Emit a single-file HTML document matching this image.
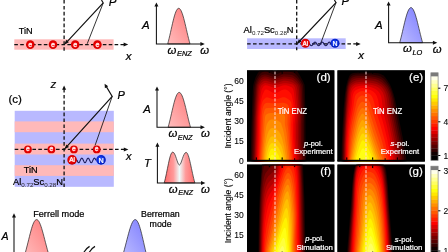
<!DOCTYPE html>
<html><head><meta charset="utf-8"><title>Figure</title>
<style>
html,body{margin:0;padding:0;background:#fff;overflow:hidden}
svg{display:block}
text{font-family:"Liberation Sans",sans-serif;stroke:#000;stroke-width:0.22px}
text[fill="#fff"]{stroke:#fff}
text[fill="#ffe6e6"]{stroke:#ffe6e6;stroke-width:0.3px}
tspan.s{stroke:none;fill:#222}
text.n{stroke-width:0.08px}
</style></head><body>
<svg width="448" height="252" viewBox="0 0 448 252">
<rect width="448" height="252" fill="#fff"/>
<defs>
<radialGradient id="ge" cx="0.5" cy="0.5" r="0.5"><stop offset="0" stop-color="#f44"/><stop offset="0.5" stop-color="#ec0000"/><stop offset="1" stop-color="#d80000"/></radialGradient>
<radialGradient id="gal" cx="0.45" cy="0.45" r="0.55"><stop offset="0" stop-color="#ff5a5a"/><stop offset="0.6" stop-color="#e80000"/><stop offset="1" stop-color="#c40000"/></radialGradient>
<radialGradient id="gn" cx="0.45" cy="0.45" r="0.55"><stop offset="0" stop-color="#4a6cff"/><stop offset="0.6" stop-color="#0a2ee0"/><stop offset="1" stop-color="#0018b0"/></radialGradient>
<linearGradient id="gr" x1="0" y1="1" x2="1" y2="0"><stop offset="0" stop-color="#ffbcbc"/><stop offset="1" stop-color="#ff7a7a"/></linearGradient>
<linearGradient id="gb" x1="0" y1="1" x2="1" y2="0"><stop offset="0" stop-color="#bcbcff"/><stop offset="1" stop-color="#7c7cff"/></linearGradient>
<linearGradient id="gt" x1="0" y1="0" x2="1" y2="0"><stop offset="0" stop-color="#ff6a6a"/><stop offset="0.3" stop-color="#ff9a9a"/><stop offset="0.5" stop-color="#eefafa"/><stop offset="0.7" stop-color="#ff9a9a"/><stop offset="1" stop-color="#ff6a6a"/></linearGradient>
<marker id="ah" viewBox="0 0 10 10" refX="9" refY="5" markerWidth="4.2" markerHeight="4.2" orient="auto"><path d="M0,0.8 L10,5 L0,9.2 Z" fill="#111"/></marker>
<g id="el"><circle r="4.3" fill="url(#ge)"/><text y="2.1" font-size="7.2" text-anchor="middle" fill="#ffe6e6">e</text></g>
<g id="el2"><circle r="3.9" fill="url(#ge)"/><text y="2.0" font-size="6.8" text-anchor="middle" fill="#ffe6e6">e</text></g>
</defs>

<!-- ================= (a) TiN film ================= -->
<rect x="14.3" y="39.3" width="99.3" height="10.4" fill="#ffb9b9"/>
<line x1="14.3" y1="44.6" x2="124.5" y2="44.6" stroke="#111" stroke-width="1.3" stroke-dasharray="3.6 2.3"/>
<path d="M128.2,44.6 L123.6,42.6 L123.6,46.6 Z" fill="#111"/>
<line x1="64.1" y1="0" x2="64.1" y2="50.8" stroke="#111" stroke-width="1.3" stroke-dasharray="3.6 2.3"/>
<use href="#el" x="30.3" y="44.6"/><use href="#el" x="53.0" y="44.6"/><use href="#el" x="75.2" y="44.6"/><use href="#el" x="97.4" y="44.6"/>
<path d="M101.5,0 L103.2,3 L65.3,43.6" fill="none" stroke="#111" stroke-width="1.15"/><path d="M103.2,3 L87.2,43.8" fill="none" stroke="#111" stroke-width="0.85"/>
<path d="M64.3,44.5 L66.3,39.8 L68.9,42.3 Z" fill="#111"/>
<text x="18.8" y="34.0" font-size="9.2">TiN</text>
<text x="108.8" y="6.4" font-size="11.5" font-style="italic">P</text>
<text x="125.8" y="59.7" font-size="11.5" font-style="italic">x</text>
<!-- A plot (a) -->
<path d="M167.7,43.9 C171.6,30 174.6,8.3 178.7,8.3 C182.8,8.3 186,30 190,43.9 Z" fill="url(#gr)" stroke="#222" stroke-width="0.7"/>
<path d="M156.4,5 L156.4,43.9 L201,43.9" fill="none" stroke="#111" stroke-width="1.05"/>
<path d="M156.4,2.4 L154.4,6.6 L158.4,6.6 Z M204.8,43.9 L200.4,41.9 L200.4,45.9 Z" fill="#111"/>
<text x="142.0" y="29.3" font-size="11.5" font-style="italic">A</text>
<text x="167.6" y="53.7" font-size="11.3" font-style="italic">ω<tspan font-size="7.4" dy="2.7" dx="0.6">ENZ</tspan></text>
<text x="200.2" y="54.3" font-size="11.3" font-style="italic">ω</text>

<!-- ================= (b) AlScN film ================= -->
<rect x="247.1" y="38.3" width="98.6" height="10.7" fill="#b9b9ff"/>
<line x1="247.1" y1="43.9" x2="357" y2="43.9" stroke="#111" stroke-width="1.3" stroke-dasharray="3.6 2.3"/>
<path d="M360.7,43.9 L356.1,41.9 L356.1,45.9 Z" fill="#111"/>
<line x1="296.7" y1="0" x2="296.7" y2="50.2" stroke="#111" stroke-width="1.3" stroke-dasharray="3.6 2.3"/>
<path d="M334.4,0 L336,2.6 L297.8,43.0" fill="none" stroke="#111" stroke-width="1.15"/><path d="M336,2.6 L320.6,43.6" fill="none" stroke="#111" stroke-width="0.85"/>
<path d="M296.9,43.9 L298.9,39.2 L301.5,41.7 Z" fill="#111"/>
<path d="M309.6,43.9 q1.8,3.6 3.6,0 t3.6,0 t3.6,0 t3.6,0 t3.6,0 t3.2,0" fill="none" stroke="#1c1c5c" stroke-width="1.15"/>
<circle cx="305.4" cy="43.3" r="4.5" fill="url(#gal)"/><text x="305.4" y="45.6" font-size="6.4" text-anchor="middle" fill="#fff">Al</text>
<circle cx="335.0" cy="43.3" r="4.5" fill="url(#gn)"/><text x="335.0" y="45.8" font-size="7" text-anchor="middle" fill="#fff">N</text>
<text x="243.6" y="32.9" font-size="9.3">Al<tspan class="s" font-size="6.2" dy="1.7">0.72</tspan><tspan dy="-1.7">Sc</tspan><tspan class="s" font-size="6.2" dy="1.7">0.28</tspan><tspan dy="-1.7">N</tspan></text>
<text x="341.6" y="5.4" font-size="11.5" font-style="italic">P</text>
<text x="358.2" y="59.2" font-size="11.5" font-style="italic">x</text>
<!-- A plot (b) -->
<path d="M399.7,42.7 C403.6,29 406.8,7.6 411,7.6 C415.2,7.6 418.6,29 422.6,42.7 Z" fill="url(#gb)" stroke="#222" stroke-width="0.7"/>
<path d="M388.6,4 L388.6,42.7 L433.5,42.7" fill="none" stroke="#111" stroke-width="1.05"/>
<path d="M388.6,1.4 L386.6,5.6 L390.6,5.6 Z M437.3,42.7 L432.9,40.7 L432.9,44.7 Z" fill="#111"/>
<text x="375.0" y="28.6" font-size="11.5" font-style="italic">A</text>
<text x="403.0" y="52.4" font-size="11.3" font-style="italic">ω<tspan font-size="7.4" dy="2.5" dx="0.6">LO</tspan></text>
<text x="432.8" y="52.6" font-size="11.3" font-style="italic">ω</text>

<!-- ================= (c) multilayer ================= -->
<rect x="14.7" y="110.8" width="99.1" height="76" fill="#b9b9ff"/>
<rect x="14.7" y="121.4" width="99.1" height="10.8" fill="#ffb9b9"/>
<rect x="14.7" y="143.6" width="99.1" height="10.9" fill="#ffb9b9"/>
<rect x="14.7" y="165.2" width="99.1" height="10.7" fill="#ffb9b9"/>
<line x1="64.1" y1="89" x2="64.1" y2="187.4" stroke="#111" stroke-width="1.3" stroke-dasharray="3.6 2.3"/>
<path d="M64.1,85.4 L62.1,89.8 L66.1,89.8 Z" fill="#111"/>
<line x1="14.7" y1="149.4" x2="124.6" y2="149.4" stroke="#111" stroke-width="1.3" stroke-dasharray="3.6 2.3"/>
<path d="M128.4,149.4 L123.8,147.4 L123.8,151.4 Z" fill="#111"/>
<path d="M105.6,85.4 L112.2,96.4 L65.4,148.2" fill="none" stroke="#111" stroke-width="1.15"/><path d="M112.2,96.4 L95.0,145.6" fill="none" stroke="#111" stroke-width="0.85"/>
<path d="M104.6,83.8 L104.9,88.2 L108.2,86.2 Z M64.4,149.3 L66.4,144.5 L69.0,147.0 Z" fill="#111"/>
<use href="#el2" x="27.9" y="149.4"/><use href="#el2" x="51.4" y="149.4"/><use href="#el2" x="73.9" y="149.4"/><use href="#el2" x="96.7" y="149.4"/>
<path d="M75.5,159.6 L77.1,160.4 q1.58,4.6 3.15,0 t3.15,0 t3.15,0 t3.15,0 t3.15,0 t3.15,0" fill="none" stroke="#1c1c5c" stroke-width="1.15"/>
<circle cx="72.1" cy="159.9" r="4.8" fill="url(#gal)"/><text x="72.1" y="162.3" font-size="6.6" text-anchor="middle" fill="#fff">Al</text>
<circle cx="101.0" cy="159.9" r="4.8" fill="url(#gn)"/><text x="101.0" y="162.5" font-size="7.2" text-anchor="middle" fill="#fff">N</text>
<text x="8.4" y="103.1" font-size="11.6">(c)</text>
<text x="50.6" y="88.1" font-size="11.5" font-style="italic">z</text>
<text x="117.6" y="98.6" font-size="11" font-style="italic">P</text>
<text x="126.0" y="160.2" font-size="11" font-style="italic">x</text>
<text x="23.7" y="172.6" font-size="9.2">TiN</text>
<text x="13.0" y="185.4" font-size="9.3">Al<tspan class="s" font-size="6.2" dy="1.7">0.72</tspan><tspan dy="-1.7">Sc</tspan><tspan class="s" font-size="6.2" dy="1.7">0.28</tspan><tspan dy="-1.7">N</tspan></text>
<!-- A plot (c) -->
<path d="M168.1,127.3 C172,114 175,92.4 179.2,92.4 C183.4,92.4 186.6,114 190.5,127.3 Z" fill="url(#gr)" stroke="#222" stroke-width="0.7"/>
<path d="M157,89 L157,127.3 L201,127.3" fill="none" stroke="#111" stroke-width="1.05"/>
<path d="M157,86.4 L155,90.6 L159,90.6 Z M204.9,127.3 L200.5,125.3 L200.5,129.3 Z" fill="#111"/>
<text x="143.2" y="112.7" font-size="11.3" font-style="italic">A</text>
<text x="168.4" y="136.9" font-size="11.3" font-style="italic">ω<tspan font-size="7.4" dy="2.6" dx="0.6">ENZ</tspan></text>
<text x="201.0" y="137.0" font-size="11.3" font-style="italic">ω</text>
<!-- T plot (c) -->
<path d="M164.2,182.9 C167.4,172 169.6,152.1 172.7,152.1 C175.6,152.1 177.4,165 179.4,165 C181.4,165 183.2,152.4 186.1,152.4 C189.2,152.4 191.6,172 194.9,182.9 Z" fill="url(#gt)" stroke="#222" stroke-width="0.7"/>
<path d="M157.4,145 L157.4,182.9 L201.6,182.9" fill="none" stroke="#111" stroke-width="1.05"/>
<path d="M157.4,142.5 L155.4,146.7 L159.4,146.7 Z M205.4,182.9 L201,180.9 L201,184.9 Z" fill="#111"/>
<text x="144.0" y="166.8" font-size="11.3" font-style="italic">T</text>
<text x="168.8" y="192.8" font-size="11.3" font-style="italic">ω<tspan font-size="7.4" dy="2.6" dx="0.6">ENZ</tspan></text>
<text x="201.0" y="192.8" font-size="11.3" font-style="italic">ω</text>

<!-- ================= bottom modes ================= -->
<path d="M24.4,256 C29.6,238 32.4,219.6 36.6,219.6 C40.8,219.6 43.8,238 49.2,256 Z" fill="url(#gr)" stroke="#222" stroke-width="0.7"/>
<path d="M122.6,256 C127.8,238 131,219.6 135.2,219.6 C139.4,219.6 142.4,238 146.8,256 Z" fill="url(#gb)" stroke="#222" stroke-width="0.7"/>
<path d="M14,216 L14,256" fill="none" stroke="#111" stroke-width="1.05"/>
<path d="M14,213.2 L12,217.4 L16,217.4 Z" fill="#111"/>
<path d="M89.6,246.4 Q85,249 83.2,254 M95.0,246.4 Q90.4,249 88.6,254" fill="none" stroke="#111" stroke-width="1.25"/>
<text x="1.4" y="239.8" font-size="10.6" font-style="italic">A</text>
<text x="33.2" y="216.5" font-size="9.15">Ferrell mode</text>
<text x="160.4" y="216.5" font-size="8.8" text-anchor="middle">Berreman</text>
<text x="160.6" y="227.4" font-size="8.8" text-anchor="middle">mode</text>

<g id="heat">
<clipPath id="cd"><rect x="247.0" y="70.4" width="87.3" height="91.0"/></clipPath>
<rect x="247.0" y="70.4" width="87.3" height="91.0" fill="#000"/>
<g clip-path="url(#cd)">
<path fill="#1e0000" d="M259.6,70.4 272.6,70.4 273.2,70.9 275.0,71.2 276.7,70.9 277.3,70.4 296.8,70.4 299.5,74.7 302.9,80.9 304.5,84.8 304.8,88.9 305.4,111.4 305.5,138.4 306.5,161.4 250.6,161.4 251.5,124.9 252.7,91.9 253.0,86.9 253.3,84.9 253.9,82.4 255.5,77.6 257.3,73.9Z"/>
<path fill="#3c0000" d="M262.0,72.3 264.5,71.5 266.5,71.6 268.0,72.1 272.5,74.0 275.0,74.5 277.5,74.0 281.5,72.1 283.5,71.6 288.0,71.6 292.5,72.2 294.5,73.2 297.0,75.4 300.0,79.4 302.5,83.9 302.9,84.9 303.1,86.4 303.5,92.9 304.0,113.9 303.9,124.9 304.1,139.4 305.1,161.4 251.8,161.4 252.7,123.4 254.0,92.4 254.4,87.4 254.9,84.4 256.1,80.4 257.0,78.4 259.2,74.9 260.5,73.4Z"/>
<path fill="#5a0000" d="M261.5,75.3 264.0,74.4 266.0,74.4 268.0,74.9 272.5,76.5 275.0,76.9 277.5,76.4 282.0,74.7 284.0,74.3 288.0,74.5 292.0,75.1 294.0,76.0 297.0,78.4 299.0,80.9 301.1,84.4 301.6,86.4 301.9,89.4 302.4,104.4 302.6,114.4 302.4,124.9 302.6,138.9 303.6,161.4 252.9,161.4 253.8,122.4 254.6,104.9 255.5,88.9 256.0,84.9 257.6,80.4 258.4,78.9 259.8,76.9Z"/>
<path fill="#780000" d="M262.0,77.4 264.0,76.6 266.0,76.6 268.0,77.0 272.5,78.5 275.0,78.8 277.0,78.6 282.0,76.9 284.0,76.6 287.5,76.7 291.0,77.2 293.0,77.8 295.3,79.4 297.5,81.7 299.7,84.9 300.2,86.9 300.5,89.9 301.1,104.9 301.3,113.9 300.9,124.9 301.0,138.9 302.1,161.4 253.9,161.4 254.8,120.9 255.5,104.9 256.5,88.9 257.1,84.9 258.3,81.9 260.2,78.9 261.0,78.0Z"/>
<path fill="#960000" d="M263.0,79.0 264.5,78.5 266.5,78.6 268.5,79.1 272.5,80.5 275.0,80.9 277.0,80.6 281.5,79.0 283.5,78.6 286.0,78.6 289.0,78.9 292.0,79.6 293.5,80.4 297.5,84.3 298.0,85.1 298.6,86.9 299.0,89.9 299.8,104.9 299.9,114.4 299.4,124.9 299.4,138.4 299.9,150.9 300.6,161.4 254.7,161.4 255.7,118.9 256.3,105.9 257.4,89.4 257.9,86.4 258.5,84.4 261.0,80.4 261.5,79.9Z"/>
<path fill="#b40000" d="M264.0,80.9 265.0,80.7 266.5,80.8 272.5,82.7 275.0,83.0 277.5,82.7 283.5,80.8 285.0,80.7 287.5,80.9 290.5,81.7 293.0,82.7 295.3,84.4 296.0,85.3 296.6,86.4 297.1,88.4 297.5,90.9 298.5,105.4 298.5,113.9 297.8,124.9 297.8,138.4 298.4,151.4 299.2,161.4 255.4,161.4 256.5,116.9 257.1,106.4 258.4,90.9 259.0,87.1 259.7,84.9 261.5,82.8 263.0,81.5Z"/>
<path fill="#d20000" d="M264.0,83.4 265.0,83.1 266.5,83.2 273.0,84.7 275.0,84.9 277.0,84.7 283.5,83.2 286.5,83.2 289.5,83.7 292.5,84.6 293.7,85.4 294.7,86.9 295.3,88.9 295.7,91.4 297.1,105.9 297.1,113.9 296.2,124.9 296.1,137.9 296.8,150.9 297.7,161.4 256.1,161.4 256.8,140.9 257.2,118.4 258.1,105.4 259.7,91.4 260.4,87.4 261.0,85.9 261.7,84.9Z"/>
<path fill="#f00000" d="M264.7,85.4 265.5,85.2 267.5,85.5 273.0,87.6 275.0,88.0 277.0,87.6 281.2,85.9 282.8,85.4 284.5,85.2 286.0,85.3 288.7,85.9 290.9,86.9 292.0,87.6 293.0,89.0 293.5,90.5 294.0,92.9 295.4,105.9 295.5,113.9 294.5,124.9 294.6,137.9 295.3,151.4 296.3,161.4 256.8,161.4 257.7,140.4 258.2,116.9 259.0,106.9 260.7,93.9 261.5,90.1 262.0,88.7 263.0,86.9 263.9,85.9Z"/>
<path fill="#ff0d00" d="M265.5,89.6 266.5,89.5 267.5,89.8 272.5,92.4 274.0,92.9 275.0,93.1 276.0,93.0 277.5,92.5 281.5,90.3 283.0,89.7 284.0,89.5 285.5,89.6 287.0,90.1 288.5,91.0 290.4,92.9 291.5,94.4 293.2,101.9 293.7,105.4 293.8,114.4 292.9,124.4 293.1,137.9 294.0,151.9 294.9,161.4 257.7,161.4 258.7,140.4 259.3,116.4 260.0,107.0 261.0,100.8 262.4,94.9 264.5,90.6Z"/>
<path fill="#ff2600" d="M266.0,97.5 267.0,97.2 268.0,97.4 272.5,98.9 275.0,99.2 277.5,98.9 282.5,97.3 284.5,97.3 286.0,97.8 288.0,99.0 290.0,100.6 291.0,102.1 291.5,103.7 291.7,105.4 292.0,113.9 291.2,124.4 291.8,139.9 292.8,153.4 293.6,161.4 258.6,161.4 259.7,140.4 260.3,116.4 261.0,108.4 261.6,104.4 262.5,101.4 263.0,100.5 264.5,98.8Z"/>
<path fill="#ff4000" d="M266.0,103.0 268.0,102.8 274.5,103.5 282.5,102.8 284.5,102.9 286.0,103.4 287.0,104.0 287.9,104.9 288.5,105.9 289.3,108.9 290.1,114.4 289.5,124.9 290.5,142.4 292.3,161.4 259.5,161.4 260.8,140.4 261.5,118.9 261.8,114.4 262.5,109.1 263.2,106.4 263.9,104.9 264.5,104.1Z"/>
<path fill="#ff5900" d="M266.0,108.2 268.5,107.9 273.0,107.8 284.0,108.2 285.0,108.7 285.5,109.2 286.5,110.8 287.4,113.4 287.6,114.9 287.5,124.4 288.3,130.9 289.0,141.9 291.0,161.4 260.5,161.4 261.9,140.4 263.2,116.4 263.5,113.9 264.3,110.9 265.0,109.3Z"/>
<path fill="#ff7300" d="M267.5,113.7 269.0,113.2 271.0,112.9 276.0,113.0 279.0,113.3 281.9,113.9 284.0,114.6 284.5,115.1 284.9,116.4 285.0,117.4 284.8,122.4 284.9,124.4 286.5,132.9 289.6,161.4 261.6,161.4 262.4,148.9 264.9,117.9 265.3,115.9 265.8,114.9 266.3,114.4Z"/>
<path fill="#ff8c00" d="M270.5,119.8 271.5,119.6 273.5,119.6 277.0,120.3 279.5,121.7 280.5,122.6 281.0,123.3 283.0,129.3 284.0,133.7 286.4,147.9 288.1,161.4 262.6,161.4 263.6,148.4 265.3,132.4 266.0,127.6 266.8,124.4 267.7,122.4 269.0,120.8Z"/>
<path fill="#ffa600" d="M271.0,128.2 272.0,127.9 273.0,128.0 274.5,128.4 276.0,129.2 278.5,131.3 280.5,134.0 282.0,138.3 284.1,146.4 286.7,161.4 263.7,161.4 264.8,148.4 266.5,137.9 267.4,134.4 268.5,131.5 269.5,129.7Z"/>
<path fill="#ffbf00" d="M271.5,136.4 272.5,136.3 273.5,136.5 275.5,137.7 278.0,140.4 280.5,143.9 281.5,145.9 282.5,148.9 285.1,161.4 264.9,161.4 265.7,151.9 266.7,146.4 268.0,142.3 269.5,138.8 270.5,137.2Z"/>
<path fill="#ffd900" d="M271.0,143.5 271.5,143.2 272.5,143.1 274.5,143.8 276.5,145.4 278.5,147.8 279.7,149.9 281.0,152.9 282.0,156.0 283.4,161.4 266.1,161.4 266.9,154.4 268.0,149.5 269.5,145.5Z"/>
<path fill="#fff200" d="M271.5,148.7 272.5,148.6 274.0,149.2 275.0,149.9 276.3,151.4 278.5,155.3 280.9,161.4 267.6,161.4 268.4,156.4 269.4,152.4 270.5,149.8Z"/>
<path fill="#ffff14" d="M271.5,154.9 272.0,154.7 273.0,154.9 274.5,156.0 276.0,157.9 277.5,160.5 277.8,161.4 269.2,161.4 270.3,156.9 271.0,155.5Z"/>
<line x1="275.0" y1="71.4" x2="275.0" y2="160.4" stroke="#ffd8d8" stroke-width="1" stroke-dasharray="3.1 1.4"/>
</g>
<rect x="247.5" y="70.9" width="86.3" height="90.0" fill="none" stroke="#000" stroke-width="1"/>
<rect x="247.0" y="159.8" width="87.3" height="1.6" fill="#000"/>
<rect x="255.8" y="157.4" width="1.1" height="2.4" fill="#000"/>
<rect x="255.8" y="71.4" width="1.1" height="2.4" fill="#000"/>
<rect x="268.8" y="158.3" width="1.1" height="1.5" fill="#000"/>
<rect x="268.8" y="71.4" width="1.1" height="1.5" fill="#000"/>
<rect x="281.6" y="157.4" width="1.1" height="2.4" fill="#000"/>
<rect x="281.6" y="71.4" width="1.1" height="2.4" fill="#000"/>
<rect x="294.1" y="158.3" width="1.1" height="1.5" fill="#000"/>
<rect x="294.1" y="71.4" width="1.1" height="1.5" fill="#000"/>
<rect x="306.2" y="157.4" width="1.1" height="2.4" fill="#000"/>
<rect x="306.2" y="71.4" width="1.1" height="2.4" fill="#000"/>
<clipPath id="ce"><rect x="337.5" y="70.4" width="87.3" height="91.0"/></clipPath>
<rect x="337.5" y="70.4" width="87.3" height="91.0" fill="#000"/>
<g clip-path="url(#ce)">
<path fill="#1e0000" d="M351.0,74.1 352.0,73.5 353.5,73.1 356.5,72.7 359.5,72.5 371.0,72.7 378.0,73.3 380.5,73.9 383.0,75.3 385.0,77.1 387.5,80.4 390.0,84.6 391.7,88.4 393.4,93.4 395.0,99.2 403.0,138.9 405.0,150.4 406.6,161.4 341.4,161.4 341.7,145.9 342.4,129.4 343.6,108.4 344.8,94.9 345.9,86.9 347.4,80.9 349.1,76.4 350.0,75.0Z"/>
<path fill="#3c0000" d="M352.0,75.8 353.5,75.1 356.0,74.6 362.0,74.3 371.5,74.6 375.0,74.9 377.5,75.4 380.5,76.5 383.5,78.5 385.5,80.6 388.5,84.7 390.0,87.5 391.5,91.1 392.5,94.3 393.7,98.9 396.2,113.9 401.7,141.9 404.7,161.4 342.3,161.4 342.6,144.9 343.3,128.9 344.6,107.4 345.8,93.4 346.9,86.4 348.4,80.9 349.0,79.4 350.0,77.7 351.0,76.5Z"/>
<path fill="#5a0000" d="M352.5,77.6 354.5,76.8 356.5,76.3 362.0,75.9 370.0,76.3 376.0,77.2 379.5,78.4 382.0,79.8 386.0,83.9 388.0,86.6 389.4,89.4 390.4,91.9 392.2,98.4 394.3,113.4 399.7,140.9 401.4,151.4 402.8,161.4 343.0,161.4 343.4,144.9 344.1,128.9 345.7,103.4 346.7,92.4 347.5,86.9 348.5,83.3 350.5,79.4 351.5,78.3Z"/>
<path fill="#780000" d="M353.0,79.4 354.5,78.7 356.5,78.2 362.5,77.7 370.0,78.2 375.5,79.1 378.5,80.3 382.0,82.5 384.7,84.9 387.0,88.1 388.2,90.4 389.2,92.9 390.5,97.9 392.5,113.4 397.9,140.9 399.6,151.4 400.9,161.4 343.7,161.4 344.1,143.9 344.8,129.4 346.3,104.4 347.3,92.9 348.0,87.8 349.0,84.5 351.0,81.1 352.0,80.0Z"/>
<path fill="#960000" d="M353.5,81.5 356.5,80.2 359.5,79.7 362.0,79.5 367.4,79.9 373.5,81.0 377.5,82.3 381.5,84.4 383.7,86.4 385.8,89.4 387.6,93.4 388.7,97.9 390.6,112.9 396.0,140.4 397.7,150.9 399.0,161.4 344.4,161.4 344.7,144.9 345.4,128.9 346.5,110.6 347.9,93.9 348.7,88.9 349.7,85.4 350.5,84.1 351.5,82.9Z"/>
<path fill="#b40000" d="M353.0,83.9 356.0,82.6 361.5,81.7 365.0,81.8 372.0,82.9 376.5,84.1 379.5,85.5 382.0,87.5 384.1,90.4 385.7,93.9 386.7,97.9 388.5,111.9 394.2,140.4 395.8,150.9 397.1,161.4 344.9,161.4 345.2,144.4 346.0,127.5 347.0,112.2 348.5,96.4 349.2,91.4 350.0,87.8 351.2,85.4Z"/>
<path fill="#d20000" d="M354.5,85.1 356.0,84.5 358.0,84.1 362.5,83.6 366.0,83.9 372.0,84.9 375.5,86.0 378.5,87.6 380.6,89.4 382.5,92.1 383.7,94.9 384.5,98.2 386.3,111.9 389.5,126.6 392.5,142.1 394.0,151.8 395.2,161.4 345.5,161.4 345.9,142.9 346.7,125.4 347.5,115.5 348.8,104.4 349.8,94.4 350.4,90.9 351.2,88.4 352.5,86.6Z"/>
<path fill="#f00000" d="M355.5,87.1 359.0,85.9 362.5,85.5 365.5,85.8 370.4,86.9 374.0,88.2 376.5,89.7 378.5,91.5 380.1,93.9 381.0,95.9 381.6,98.4 382.9,108.4 383.9,113.9 387.0,126.4 390.0,140.2 391.8,150.4 393.3,161.4 346.1,161.4 346.4,143.9 347.1,131.9 348.0,120.8 350.2,104.4 351.0,95.0 351.5,92.3 352.5,90.0 353.7,88.4Z"/>
<path fill="#ff0d00" d="M357.0,89.4 359.5,88.4 362.0,87.9 364.5,88.1 367.4,88.9 371.0,90.3 373.5,91.8 375.5,93.7 376.8,95.9 378.0,99.6 380.2,112.4 384.0,126.0 387.5,140.4 389.5,150.3 391.3,161.4 346.8,161.4 347.2,144.4 348.1,131.4 349.2,120.9 351.7,105.4 352.5,96.9 353.0,94.4 354.0,92.0 355.3,90.4Z"/>
<path fill="#ff2600" d="M359.5,91.7 361.0,91.2 362.5,91.0 364.0,91.2 366.0,91.9 368.9,93.4 370.3,94.4 371.7,95.9 372.8,97.9 373.8,100.9 377.0,113.9 380.4,124.9 384.9,140.9 387.0,150.0 389.3,161.4 347.4,161.4 348.3,142.9 349.5,129.2 351.0,118.9 353.4,106.4 354.5,98.4 355.0,96.3 356.0,94.3 357.5,92.9Z"/>
<path fill="#ff4000" d="M361.0,95.7 362.0,95.4 363.0,95.4 364.0,95.7 365.5,96.6 368.3,99.4 369.9,102.4 371.0,105.7 373.3,113.9 382.1,141.4 387.3,161.4 348.1,161.4 349.7,138.9 351.0,128.6 352.2,121.4 356.8,100.9 357.4,99.4 358.5,97.8 359.8,96.4Z"/>
<path fill="#ff5900" d="M362.0,101.8 362.5,101.7 363.5,102.0 365.0,103.3 367.5,106.6 368.6,108.9 375.0,129.0 379.7,142.9 385.3,161.4 348.8,161.4 351.0,139.1 352.5,129.4 354.0,121.9 357.0,109.8 358.0,106.9 360.0,103.5 361.0,102.4Z"/>
<path fill="#ff7300" d="M362.0,108.0 363.0,108.0 364.5,109.1 366.5,112.1 367.6,114.4 368.9,117.9 373.0,131.4 383.3,161.4 349.6,161.4 352.4,139.4 353.8,131.4 355.9,121.9 357.0,117.4 358.5,113.0 360.5,109.4 361.4,108.4Z"/>
<path fill="#ff8c00" d="M362.0,113.8 362.5,113.6 363.0,113.7 364.0,114.6 365.2,116.4 367.0,119.8 368.5,124.0 372.5,137.0 377.5,151.3 381.3,161.4 350.4,161.4 353.7,140.4 357.0,124.9 358.0,121.3 359.0,118.6 361.0,114.9Z"/>
<path fill="#ffa600" d="M362.5,119.9 363.0,120.0 364.0,120.9 367.0,126.5 375.0,150.0 379.3,161.4 351.4,161.4 355.1,140.9 357.5,130.4 358.5,127.0 360.2,122.9 361.5,120.7Z"/>
<path fill="#ffbf00" d="M362.5,126.6 363.0,126.6 363.5,127.0 364.5,128.3 368.0,135.1 374.3,152.9 377.6,161.4 352.6,161.4 356.0,143.9 357.5,137.4 358.5,134.1 360.5,129.3 361.5,127.5Z"/>
<path fill="#ffd900" d="M362.5,133.4 363.0,133.4 363.5,133.6 364.5,134.7 368.0,141.0 369.5,144.5 375.8,161.4 353.8,161.4 358.0,142.7 360.5,136.2 361.5,134.4Z"/>
<path fill="#fff200" d="M362.5,140.3 363.0,140.2 364.0,140.8 365.0,142.0 366.0,143.7 370.5,153.3 373.8,161.4 355.3,161.4 357.5,152.5 359.5,146.2 361.0,142.3 362.0,140.7Z"/>
<path fill="#ffff14" d="M362.5,148.5 363.0,148.3 364.0,148.7 365.5,150.6 367.5,154.4 370.6,161.4 357.6,161.4 360.5,152.1 361.5,149.8Z"/>
<path fill="#ffff3b" d="M361.0,161.4 361.4,160.4 362.5,158.7 363.0,158.4 363.5,158.4 364.0,158.6 365.0,159.5 366.0,160.8 366.2,161.4Z"/>
<line x1="366.0" y1="71.4" x2="366.0" y2="160.4" stroke="#ffd8d8" stroke-width="1" stroke-dasharray="3.1 1.4"/>
</g>
<rect x="338.0" y="70.9" width="86.3" height="90.0" fill="none" stroke="#000" stroke-width="1"/>
<rect x="337.5" y="159.8" width="87.3" height="1.6" fill="#000"/>
<rect x="346.2" y="157.4" width="1.1" height="2.4" fill="#000"/>
<rect x="346.2" y="71.4" width="1.1" height="2.4" fill="#000"/>
<rect x="359.2" y="158.3" width="1.1" height="1.5" fill="#000"/>
<rect x="359.2" y="71.4" width="1.1" height="1.5" fill="#000"/>
<rect x="372.1" y="157.4" width="1.1" height="2.4" fill="#000"/>
<rect x="372.1" y="71.4" width="1.1" height="2.4" fill="#000"/>
<rect x="384.6" y="158.3" width="1.1" height="1.5" fill="#000"/>
<rect x="384.6" y="71.4" width="1.1" height="1.5" fill="#000"/>
<rect x="396.8" y="157.4" width="1.1" height="2.4" fill="#000"/>
<rect x="396.8" y="71.4" width="1.1" height="2.4" fill="#000"/>
<clipPath id="cf"><rect x="247.0" y="164.6" width="87.3" height="91.0"/></clipPath>
<rect x="247.0" y="164.6" width="87.3" height="91.0" fill="#000"/>
<g clip-path="url(#cf)">
<path fill="#1e0000" d="M261.7,164.6 303.0,164.6 304.6,203.1 305.6,255.6 258.4,255.6 258.6,232.1 259.3,204.1 260.0,190.2 261.6,168.6Z"/>
<path fill="#3c0000" d="M262.4,164.6 302.1,164.6 303.6,200.1 304.6,255.6 259.0,255.6 259.3,229.6 260.0,202.6 260.5,191.1Z"/>
<path fill="#5a0000" d="M264.4,164.6 301.2,164.6 302.6,197.1 303.7,255.6 259.6,255.6 260.1,222.1 260.5,205.9 261.0,194.2 262.5,174.7 263.2,170.1Z"/>
<path fill="#780000" d="M272.6,164.6 300.3,164.6 301.1,178.6 301.6,194.1 302.8,255.6 260.3,255.6 260.6,229.1 261.3,206.1 262.0,193.1 263.0,183.3 264.0,177.6 264.6,175.6 265.5,173.3 268.0,169.9 271.4,166.6 272.5,165.1Z"/>
<path fill="#960000" d="M276.3,164.6 299.5,164.6 300.2,176.6 300.7,190.1 301.9,255.6 260.8,255.6 261.3,229.6 262.0,208.6 262.8,196.6 263.9,187.6 265.0,182.9 266.5,179.1 268.5,176.0 273.0,172.0 275.0,169.6 275.9,167.1Z"/>
<path fill="#b40000" d="M277.7,164.6 298.6,164.6 299.3,174.6 299.8,186.1 301.1,255.6 261.4,255.6 261.8,233.6 262.5,216.1 263.4,202.1 264.5,193.5 265.8,188.1 267.5,184.0 269.0,181.9 273.0,177.9 275.0,174.9 276.0,172.3 276.9,169.1Z"/>
<path fill="#d20000" d="M279.0,164.6 297.6,164.6 298.4,173.6 298.9,184.6 300.3,255.6 261.9,255.6 262.3,237.6 263.0,221.8 264.0,207.7 265.2,198.6 266.5,193.4 267.9,190.1 269.2,188.1 273.0,183.6 274.0,182.1 275.0,180.0 277.2,173.1 278.3,168.6Z"/>
<path fill="#f00000" d="M280.9,164.6 296.6,164.6 297.5,172.5 298.1,183.1 298.8,214.1 299.0,238.1 299.5,255.6 262.5,255.6 263.0,237.6 263.6,225.6 264.5,214.7 266.0,204.1 267.0,200.1 268.4,196.6 269.5,194.6 273.0,189.3 275.0,185.0 277.0,179.0Z"/>
<path fill="#ff0d00" d="M294.8,164.6 295.7,167.6 296.1,170.6 296.7,176.1 297.1,182.1 298.0,214.1 297.9,237.6 298.6,255.6 263.2,255.6 264.0,235.5 265.0,223.5 266.5,213.5 267.5,208.9 268.6,205.1 269.8,202.1 273.5,194.0 275.5,188.8 279.5,175.4 283.0,164.6Z"/>
<path fill="#ff2600" d="M291.7,164.6 293.5,167.6 294.3,170.6 295.2,176.1 295.8,183.1 297.0,212.6 296.8,238.1 297.6,255.6 264.0,255.6 264.6,243.6 265.5,234.7 266.5,227.1 268.4,218.1 272.3,204.1 282.5,172.1 284.0,167.9 285.5,164.6Z"/>
<path fill="#ff4000" d="M288.5,167.3 289.5,167.8 290.5,168.9 291.4,170.6 292.2,172.6 293.6,178.1 294.6,185.6 296.1,213.1 296.1,221.6 295.6,240.1 296.4,255.6 264.9,255.6 265.2,250.1 265.5,247.0 267.6,234.1 269.2,226.1 274.6,203.6 278.5,190.3 284.0,173.6 285.5,170.2 286.5,168.6 287.5,167.6Z"/>
<path fill="#ff5900" d="M288.5,172.9 289.4,173.6 290.0,174.4 290.8,176.1 291.5,178.6 293.0,186.1 293.9,194.1 295.1,215.1 295.1,224.1 294.6,242.1 295.3,255.6 265.9,255.6 266.3,249.6 267.2,244.6 271.3,226.1 277.5,200.2 282.5,183.7 284.5,177.9 285.5,175.7 286.5,174.0 287.5,173.1Z"/>
<path fill="#ff7300" d="M288.0,178.6 288.5,178.7 288.9,179.1 289.5,180.1 290.5,182.9 291.2,186.1 292.4,194.6 293.8,209.6 294.1,215.6 294.2,222.1 293.7,245.1 294.2,255.6 267.1,255.6 267.5,249.6 278.5,204.0 282.2,190.6 284.5,183.7 285.5,181.4 286.5,179.6 287.5,178.7Z"/>
<path fill="#ff8c00" d="M288.0,184.8 288.8,185.6 289.5,187.4 290.5,191.9 291.3,198.1 292.8,213.6 293.2,224.1 292.9,249.6 293.2,255.6 268.3,255.6 268.7,249.6 282.6,195.6 284.0,191.0 285.5,187.3 287.0,185.1 287.5,184.8Z"/>
<path fill="#ffa600" d="M287.5,191.3 288.0,191.6 288.5,192.5 289.5,196.4 290.4,203.1 291.4,214.1 292.1,226.6 292.0,249.6 292.3,255.6 269.5,255.6 270.1,249.6 278.5,219.4 283.5,199.2 284.5,196.0 285.5,193.5 286.5,191.9 287.0,191.5Z"/>
<path fill="#ffbf00" d="M287.0,199.0 287.5,199.3 287.9,200.1 288.5,202.3 289.5,208.6 290.0,214.1 290.8,227.6 291.2,249.6 291.5,255.6 270.9,255.6 271.5,249.6 277.5,229.7 283.5,206.5 284.5,203.2 285.5,200.7 286.5,199.3Z"/>
<path fill="#ffd900" d="M286.5,208.0 287.1,208.6 287.9,211.1 288.8,218.1 290.7,255.6 272.3,255.6 273.1,249.6 277.0,237.5 283.0,215.6 285.0,209.8 286.0,208.2Z"/>
<path fill="#fff200" d="M286.0,217.6 286.5,218.4 287.0,220.1 287.6,224.1 288.5,241.1 289.8,255.6 273.9,255.6 274.7,249.6 277.8,240.1 282.5,224.2 284.5,219.0 285.5,217.7Z"/>
<path fill="#ffff14" d="M285.0,227.6 285.6,228.6 286.2,231.6 287.8,249.6 288.6,255.6 275.5,255.6 276.3,249.6 281.5,234.1 283.5,229.0 284.5,227.7Z"/>
<path fill="#ffff3b" d="M284.0,238.0 284.7,239.6 285.5,243.5 287.1,255.6 277.0,255.6 277.8,250.1 279.5,245.2 281.0,241.7 282.5,238.8 283.5,237.8Z"/>
<path fill="#ffff62" d="M283.0,246.2 283.5,246.9 284.0,248.3 285.4,255.6 278.7,255.6 279.5,251.1 280.0,249.4 281.5,246.7 282.5,246.0Z"/>
<line x1="275.0" y1="165.6" x2="275.0" y2="254.6" stroke="#ffd8d8" stroke-width="1" stroke-dasharray="3.1 1.4"/>
</g>
<rect x="247.5" y="165.1" width="86.3" height="90.0" fill="none" stroke="#000" stroke-width="1"/>
<rect x="247.0" y="254.0" width="87.3" height="1.6" fill="#000"/>
<rect x="255.8" y="251.6" width="1.1" height="2.4" fill="#000"/>
<rect x="255.8" y="165.6" width="1.1" height="2.4" fill="#000"/>
<rect x="268.8" y="252.5" width="1.1" height="1.5" fill="#000"/>
<rect x="268.8" y="165.6" width="1.1" height="1.5" fill="#000"/>
<rect x="281.6" y="251.6" width="1.1" height="2.4" fill="#000"/>
<rect x="281.6" y="165.6" width="1.1" height="2.4" fill="#000"/>
<rect x="294.1" y="252.5" width="1.1" height="1.5" fill="#000"/>
<rect x="294.1" y="165.6" width="1.1" height="1.5" fill="#000"/>
<rect x="306.2" y="251.6" width="1.1" height="2.4" fill="#000"/>
<rect x="306.2" y="165.6" width="1.1" height="2.4" fill="#000"/>
<clipPath id="cg"><rect x="337.5" y="164.6" width="87.3" height="91.0"/></clipPath>
<rect x="337.5" y="164.6" width="87.3" height="91.0" fill="#000"/>
<g clip-path="url(#cg)">
<path fill="#1e0000" d="M356.1,164.6 383.9,164.6 385.4,167.6 386.0,169.6 386.6,173.6 387.7,183.6 389.1,205.6 392.6,249.6 392.6,255.6 347.2,255.6 347.3,249.6 350.8,206.1 352.5,181.6 353.3,174.6 354.2,169.1 354.7,167.6Z"/>
<path fill="#3c0000" d="M356.7,164.6 382.9,164.6 384.7,168.1 385.3,170.6 386.0,175.1 387.2,185.1 388.5,205.6 391.8,249.6 391.8,255.6 348.0,255.6 348.1,249.6 351.5,206.1 352.4,189.1 353.0,181.1 353.8,174.6 354.7,169.1 355.1,167.6Z"/>
<path fill="#5a0000" d="M357.4,164.6 381.7,164.6 383.7,168.1 384.4,170.6 385.3,175.6 386.6,186.6 391.0,249.6 391.1,255.6 348.7,255.6 348.8,249.6 352.1,206.6 353.0,188.6 353.6,180.6 354.3,174.1 355.2,169.1 355.6,167.6Z"/>
<path fill="#780000" d="M358.1,164.6 380.6,164.6 382.8,168.1 383.7,171.1 384.6,176.1 386.0,187.6 389.2,232.6 390.3,249.6 390.4,255.6 349.5,255.6 349.6,249.6 352.6,207.1 353.5,187.6 354.1,180.1 354.9,173.6 355.8,168.6 356.4,167.1 357.9,165.1Z"/>
<path fill="#960000" d="M358.9,164.6 379.5,164.6 379.7,165.1 381.4,167.1 382.2,168.6 383.2,172.6 384.1,178.1 385.6,190.6 388.3,227.6 389.7,249.6 389.7,255.6 350.1,255.6 350.2,249.6 353.2,206.6 353.9,189.1 354.7,179.1 355.4,173.1 356.3,168.6 357.0,167.1 358.7,165.1Z"/>
<path fill="#b40000" d="M360.0,164.6 378.2,164.6 378.4,165.1 380.5,167.1 381.5,169.1 382.6,173.6 383.6,179.1 385.1,192.1 387.8,227.1 389.0,249.6 389.1,255.6 350.7,255.6 350.8,249.6 353.6,206.6 354.4,188.1 355.1,179.1 355.9,172.6 356.8,168.6 357.5,167.2 358.5,166.1 359.7,165.1Z"/>
<path fill="#d20000" d="M361.3,164.6 376.7,164.6 377.0,165.1 380.0,167.8 381.0,170.2 382.0,174.3 383.1,180.1 384.0,186.9 384.7,194.1 387.2,226.1 388.4,249.1 388.5,255.6 351.3,255.6 351.4,249.6 354.1,206.1 354.9,188.1 355.5,179.5 356.5,172.1 357.4,168.6 358.0,167.6 361.0,165.1Z"/>
<path fill="#f00000" d="M363.3,164.6 374.7,164.6 374.9,165.1 378.2,167.6 379.0,168.6 380.0,170.5 381.0,173.8 382.0,178.5 383.0,184.4 384.5,198.1 386.5,224.8 387.7,246.6 387.9,255.6 351.9,255.6 352.1,249.6 354.7,205.6 355.4,187.6 356.0,179.7 357.0,173.1 358.3,169.1 359.4,167.6 363.0,165.1Z"/>
<path fill="#ff0d00" d="M366.9,164.6 371.1,164.6 371.5,165.1 374.4,166.6 376.7,168.6 378.1,170.6 379.5,173.9 381.4,181.1 383.0,190.7 385.0,213.6 386.1,230.6 387.2,255.6 352.7,255.6 352.9,249.6 355.4,206.1 356.0,188.7 356.9,180.1 358.4,173.6 360.1,169.6 360.8,168.6 361.9,167.6 364.3,166.1 366.5,165.1Z"/>
<path fill="#ff2600" d="M368.0,167.3 369.0,167.2 370.0,167.3 372.5,168.2 374.0,169.2 375.2,170.6 376.9,173.6 378.5,177.2 380.0,181.8 381.0,186.0 382.5,196.0 384.2,214.1 385.3,230.6 386.5,255.6 353.5,255.6 356.4,206.6 357.0,192.1 357.9,184.1 358.5,180.9 359.5,177.4 361.0,173.6 362.3,171.1 363.4,169.6 364.5,168.7Z"/>
<path fill="#ff4000" d="M368.5,171.6 370.0,171.7 371.5,172.3 373.5,173.6 374.5,174.8 376.0,177.6 378.0,182.4 379.4,186.6 380.3,190.6 381.7,199.6 383.5,217.6 384.4,231.6 385.7,255.6 354.5,255.6 354.8,249.6 355.9,235.1 358.2,196.6 359.0,189.0 359.7,185.6 360.7,182.1 362.0,178.5 363.3,175.6 364.0,174.5 365.0,173.4 367.0,172.1Z"/>
<path fill="#ff5900" d="M368.5,177.2 370.0,177.3 371.5,178.0 373.5,179.6 374.5,180.9 375.9,183.6 377.1,186.6 378.4,190.6 379.3,194.6 381.0,205.3 382.5,219.1 384.4,246.6 384.8,255.6 355.5,255.6 355.9,249.6 357.2,234.6 359.6,201.1 360.5,193.1 362.0,186.3 363.8,181.6 364.5,180.4 366.0,178.8 367.5,177.6Z"/>
<path fill="#ff7300" d="M369.0,182.9 370.0,183.0 371.5,183.8 373.3,185.6 374.5,187.2 375.5,189.2 376.5,191.9 378.3,199.1 380.1,209.6 381.4,220.6 383.4,247.1 383.9,255.6 356.6,255.6 357.0,249.6 358.5,235.6 361.2,203.1 362.2,195.1 363.2,190.6 364.5,187.2 365.5,185.7 367.0,184.0 368.0,183.3Z"/>
<path fill="#ff8c00" d="M369.0,188.8 370.0,188.8 371.5,189.8 372.6,191.1 374.0,193.3 375.0,195.4 375.7,197.6 377.5,204.8 379.0,213.0 380.4,224.1 382.4,247.1 383.0,255.6 357.8,255.6 358.1,249.6 359.6,238.1 362.5,207.3 363.5,199.7 364.5,195.3 365.5,192.9 367.5,189.8Z"/>
<path fill="#ffa600" d="M369.5,195.0 370.5,195.3 371.5,196.3 373.3,199.6 375.1,204.6 377.0,212.2 378.3,219.6 379.4,228.1 381.6,249.1 382.0,255.6 358.9,255.6 359.3,249.6 360.8,238.1 363.5,213.1 364.5,206.1 365.5,201.9 367.0,197.9 368.4,195.6Z"/>
<path fill="#ffbf00" d="M369.5,202.2 370.0,202.2 371.0,202.9 372.5,205.8 374.3,211.1 376.0,217.8 377.3,224.6 378.3,231.1 380.6,249.1 381.1,255.6 360.0,255.6 360.5,249.1 365.0,215.2 366.1,210.1 367.4,205.6 368.5,203.3Z"/>
<path fill="#ffd900" d="M370.0,210.0 370.5,210.2 371.0,210.7 372.5,214.0 373.8,218.6 375.4,225.1 376.5,230.8 379.3,247.1 380.1,255.6 361.2,255.6 362.0,247.6 365.0,227.4 366.2,220.6 368.0,213.2 369.0,210.9 369.5,210.3Z"/>
<path fill="#fff200" d="M370.0,218.6 370.5,218.6 371.5,219.9 372.5,222.5 373.5,226.1 378.0,247.3 378.5,250.1 379.0,255.6 362.5,255.6 363.4,247.6 367.1,226.6 368.5,221.2 369.4,219.1Z"/>
<path fill="#ffff14" d="M370.5,227.2 371.0,227.6 372.0,229.5 373.5,234.7 376.9,249.1 377.7,255.6 364.0,255.6 364.9,248.1 368.0,232.8 368.9,229.6 369.5,228.1 370.0,227.4Z"/>
<path fill="#ffff3b" d="M370.5,236.1 371.0,236.3 372.0,237.9 374.2,244.6 375.5,249.6 376.2,255.6 365.4,255.6 366.2,249.1 367.3,244.1 369.0,238.4 370.0,236.4Z"/>
<path fill="#ffff62" d="M370.5,243.5 371.0,243.5 371.5,243.9 372.0,244.6 373.0,246.7 374.0,250.1 374.8,255.6 366.9,255.6 367.5,251.1 368.4,247.1 369.5,244.5 370.0,243.8Z"/>
<path fill="#ffff89" d="M370.5,250.2 371.0,250.2 371.4,250.6 372.0,251.7 372.9,255.6 368.7,255.6 369.5,252.0 370.0,250.8Z"/>
<line x1="366.0" y1="165.6" x2="366.0" y2="254.6" stroke="#ffd8d8" stroke-width="1" stroke-dasharray="3.1 1.4"/>
</g>
<rect x="338.0" y="165.1" width="86.3" height="90.0" fill="none" stroke="#000" stroke-width="1"/>
<rect x="337.5" y="254.0" width="87.3" height="1.6" fill="#000"/>
<rect x="346.2" y="251.6" width="1.1" height="2.4" fill="#000"/>
<rect x="346.2" y="165.6" width="1.1" height="2.4" fill="#000"/>
<rect x="359.2" y="252.5" width="1.1" height="1.5" fill="#000"/>
<rect x="359.2" y="165.6" width="1.1" height="1.5" fill="#000"/>
<rect x="372.1" y="251.6" width="1.1" height="2.4" fill="#000"/>
<rect x="372.1" y="165.6" width="1.1" height="2.4" fill="#000"/>
<rect x="384.6" y="252.5" width="1.1" height="1.5" fill="#000"/>
<rect x="384.6" y="165.6" width="1.1" height="1.5" fill="#000"/>
<rect x="396.8" y="251.6" width="1.1" height="2.4" fill="#000"/>
<rect x="396.8" y="165.6" width="1.1" height="2.4" fill="#000"/>
</g>
<text x="323.6" y="80.5" font-size="11.50" text-anchor="middle" fill="#fff">(d)</text>
<text x="416.1" y="80.5" font-size="11.50" text-anchor="middle" fill="#fff">(e)</text>
<text x="325.7" y="175.1" font-size="11.50" text-anchor="middle" fill="#fff">(f)</text>
<text x="415.8" y="175.3" font-size="11.50" text-anchor="middle" fill="#fff">(g)</text>
<text x="277.7" y="113.8" font-size="8.60" text-anchor="start" fill="#fff" textLength="29.3" lengthAdjust="spacingAndGlyphs">TiN ENZ</text>
<text x="372.9" y="113.7" font-size="8.60" text-anchor="start" fill="#fff" textLength="29.3" lengthAdjust="spacingAndGlyphs">TiN ENZ</text>
<text x="313.4" y="146.0" font-size="8" text-anchor="middle" fill="#fff" textLength="18.8" lengthAdjust="spacingAndGlyphs"><tspan font-style="italic">p</tspan>-pol.</text>
<text x="294.1" y="154.4" font-size="8.00" text-anchor="start" fill="#fff" textLength="38.6" lengthAdjust="spacingAndGlyphs">Experiment</text>
<text x="400.0" y="145.6" font-size="8" text-anchor="middle" fill="#fff" textLength="18.8" lengthAdjust="spacingAndGlyphs"><tspan font-style="italic">s</tspan>-pol.</text>
<text x="380.8" y="154.0" font-size="8.00" text-anchor="start" fill="#fff" textLength="38.4" lengthAdjust="spacingAndGlyphs">Experiment</text>
<text x="314.6" y="241.4" font-size="8" text-anchor="middle" fill="#fff" textLength="18.8" lengthAdjust="spacingAndGlyphs"><tspan font-style="italic">p</tspan>-pol.</text>
<text x="296.4" y="249.8" font-size="8.00" text-anchor="start" fill="#fff" textLength="36.5" lengthAdjust="spacingAndGlyphs">Simulation</text>
<text x="404.2" y="241.8" font-size="8" text-anchor="middle" fill="#fff" textLength="18.8" lengthAdjust="spacingAndGlyphs"><tspan font-style="italic">s</tspan>-pol.</text>
<text x="385.9" y="250.2" font-size="8.00" text-anchor="start" fill="#fff" textLength="36.5" lengthAdjust="spacingAndGlyphs">Simulation</text>
<text x="243.8" y="163.5" font-size="8.50" text-anchor="end" fill="#000" class="n">0</text>
<text x="243.8" y="143.6" font-size="8.50" text-anchor="end" fill="#000" class="n">15</text>
<text x="243.8" y="123.7" font-size="8.50" text-anchor="end" fill="#000" class="n">30</text>
<text x="243.8" y="103.8" font-size="8.50" text-anchor="end" fill="#000" class="n">45</text>
<text x="243.8" y="83.9" font-size="8.50" text-anchor="end" fill="#000" class="n">60</text>
<text transform="translate(231.2,116.0) rotate(-90)" font-size="8.6" text-anchor="middle" fill="#000" class="n">Incident angle (°)</text>
<text x="243.8" y="257.9" font-size="8.50" text-anchor="end" fill="#000" class="n">0</text>
<text x="243.8" y="238.0" font-size="8.50" text-anchor="end" fill="#000" class="n">15</text>
<text x="243.8" y="218.1" font-size="8.50" text-anchor="end" fill="#000" class="n">30</text>
<text x="243.8" y="198.2" font-size="8.50" text-anchor="end" fill="#000" class="n">45</text>
<text x="243.8" y="178.3" font-size="8.50" text-anchor="end" fill="#000" class="n">60</text>
<text transform="translate(231.2,210.6) rotate(-90)" font-size="8.6" text-anchor="middle" fill="#000" class="n">Incident angle (°)</text>
<rect x="430.9" y="72.8" width="7.2" height="3.8" fill="#7a7a7a"/>
<rect x="430.9" y="76.60" width="7.2" height="3.89" fill="#ffffe9"/>
<rect x="430.9" y="80.19" width="7.2" height="3.89" fill="#ffffbc"/>
<rect x="430.9" y="83.77" width="7.2" height="3.89" fill="#ffff90"/>
<rect x="430.9" y="87.36" width="7.2" height="3.89" fill="#ffff63"/>
<rect x="430.9" y="90.95" width="7.2" height="3.89" fill="#ffff36"/>
<rect x="430.9" y="94.53" width="7.2" height="3.89" fill="#ffff0a"/>
<rect x="430.9" y="98.12" width="7.2" height="3.89" fill="#ffe800"/>
<rect x="430.9" y="101.70" width="7.2" height="3.89" fill="#ffcb00"/>
<rect x="430.9" y="105.29" width="7.2" height="3.89" fill="#ffae00"/>
<rect x="430.9" y="108.88" width="7.2" height="3.89" fill="#ff9100"/>
<rect x="430.9" y="112.46" width="7.2" height="3.89" fill="#ff7400"/>
<rect x="430.9" y="116.05" width="7.2" height="3.89" fill="#ff5800"/>
<rect x="430.9" y="119.64" width="7.2" height="3.89" fill="#ff3b00"/>
<rect x="430.9" y="123.22" width="7.2" height="3.89" fill="#ff1e00"/>
<rect x="430.9" y="126.81" width="7.2" height="3.89" fill="#ff0100"/>
<rect x="430.9" y="130.40" width="7.2" height="3.89" fill="#de0000"/>
<rect x="430.9" y="133.98" width="7.2" height="3.89" fill="#bb0000"/>
<rect x="430.9" y="137.57" width="7.2" height="3.89" fill="#990000"/>
<rect x="430.9" y="141.15" width="7.2" height="3.89" fill="#770000"/>
<rect x="430.9" y="144.74" width="7.2" height="3.89" fill="#550000"/>
<rect x="430.9" y="148.33" width="7.2" height="3.89" fill="#330000"/>
<rect x="430.9" y="151.91" width="7.2" height="3.89" fill="#110000"/>
<rect x="430.9" y="155.5" width="7.2" height="4.8" fill="#000"/>
<rect x="430.9" y="72.8" width="7.2" height="87.5" fill="none" stroke="#808080" stroke-width="0.7"/>
<rect x="430.9" y="166.2" width="7.2" height="4.1" fill="#7a7a7a"/>
<rect x="430.9" y="170.30" width="7.2" height="3.95" fill="#ffffe9"/>
<rect x="430.9" y="173.95" width="7.2" height="3.95" fill="#ffffbc"/>
<rect x="430.9" y="177.59" width="7.2" height="3.95" fill="#ffff90"/>
<rect x="430.9" y="181.24" width="7.2" height="3.95" fill="#ffff63"/>
<rect x="430.9" y="184.88" width="7.2" height="3.95" fill="#ffff36"/>
<rect x="430.9" y="188.53" width="7.2" height="3.95" fill="#ffff0a"/>
<rect x="430.9" y="192.17" width="7.2" height="3.95" fill="#ffe800"/>
<rect x="430.9" y="195.82" width="7.2" height="3.95" fill="#ffcb00"/>
<rect x="430.9" y="199.46" width="7.2" height="3.95" fill="#ffae00"/>
<rect x="430.9" y="203.11" width="7.2" height="3.95" fill="#ff9100"/>
<rect x="430.9" y="206.75" width="7.2" height="3.95" fill="#ff7400"/>
<rect x="430.9" y="210.40" width="7.2" height="3.95" fill="#ff5800"/>
<rect x="430.9" y="214.05" width="7.2" height="3.95" fill="#ff3b00"/>
<rect x="430.9" y="217.69" width="7.2" height="3.95" fill="#ff1e00"/>
<rect x="430.9" y="221.34" width="7.2" height="3.95" fill="#ff0100"/>
<rect x="430.9" y="224.98" width="7.2" height="3.95" fill="#de0000"/>
<rect x="430.9" y="228.63" width="7.2" height="3.95" fill="#bb0000"/>
<rect x="430.9" y="232.27" width="7.2" height="3.95" fill="#990000"/>
<rect x="430.9" y="235.92" width="7.2" height="3.95" fill="#770000"/>
<rect x="430.9" y="239.56" width="7.2" height="3.95" fill="#550000"/>
<rect x="430.9" y="243.21" width="7.2" height="3.95" fill="#330000"/>
<rect x="430.9" y="246.85" width="7.2" height="3.95" fill="#110000"/>
<rect x="430.9" y="250.5" width="7.2" height="9.5" fill="#000"/>
<rect x="430.9" y="166.2" width="7.2" height="93.8" fill="none" stroke="#808080" stroke-width="0.7"/>
<rect x="438.2" y="87.7" width="2.2" height="1" fill="#000"/>
<text x="443.6" y="91.2" font-size="8.50" text-anchor="start" fill="#000" class="n">7</text>
<rect x="438.2" y="121.3" width="2.2" height="1" fill="#000"/>
<text x="443.6" y="124.8" font-size="8.50" text-anchor="start" fill="#000" class="n">4</text>
<rect x="438.2" y="155.0" width="2.2" height="1" fill="#000"/>
<text x="443.6" y="158.5" font-size="8.50" text-anchor="start" fill="#000" class="n">1</text>
<rect x="438.2" y="170.1" width="2.2" height="1" fill="#000"/>
<text x="443.6" y="173.6" font-size="8.50" text-anchor="start" fill="#000" class="n">3</text>
<rect x="438.2" y="210.3" width="2.2" height="1" fill="#000"/>
<text x="443.6" y="213.8" font-size="8.50" text-anchor="start" fill="#000" class="n">2</text>
<rect x="438.2" y="250.5" width="2.2" height="1" fill="#000"/>
<text x="443.6" y="254.0" font-size="8.50" text-anchor="start" fill="#000" class="n">1</text>
</svg>
</body></html>
